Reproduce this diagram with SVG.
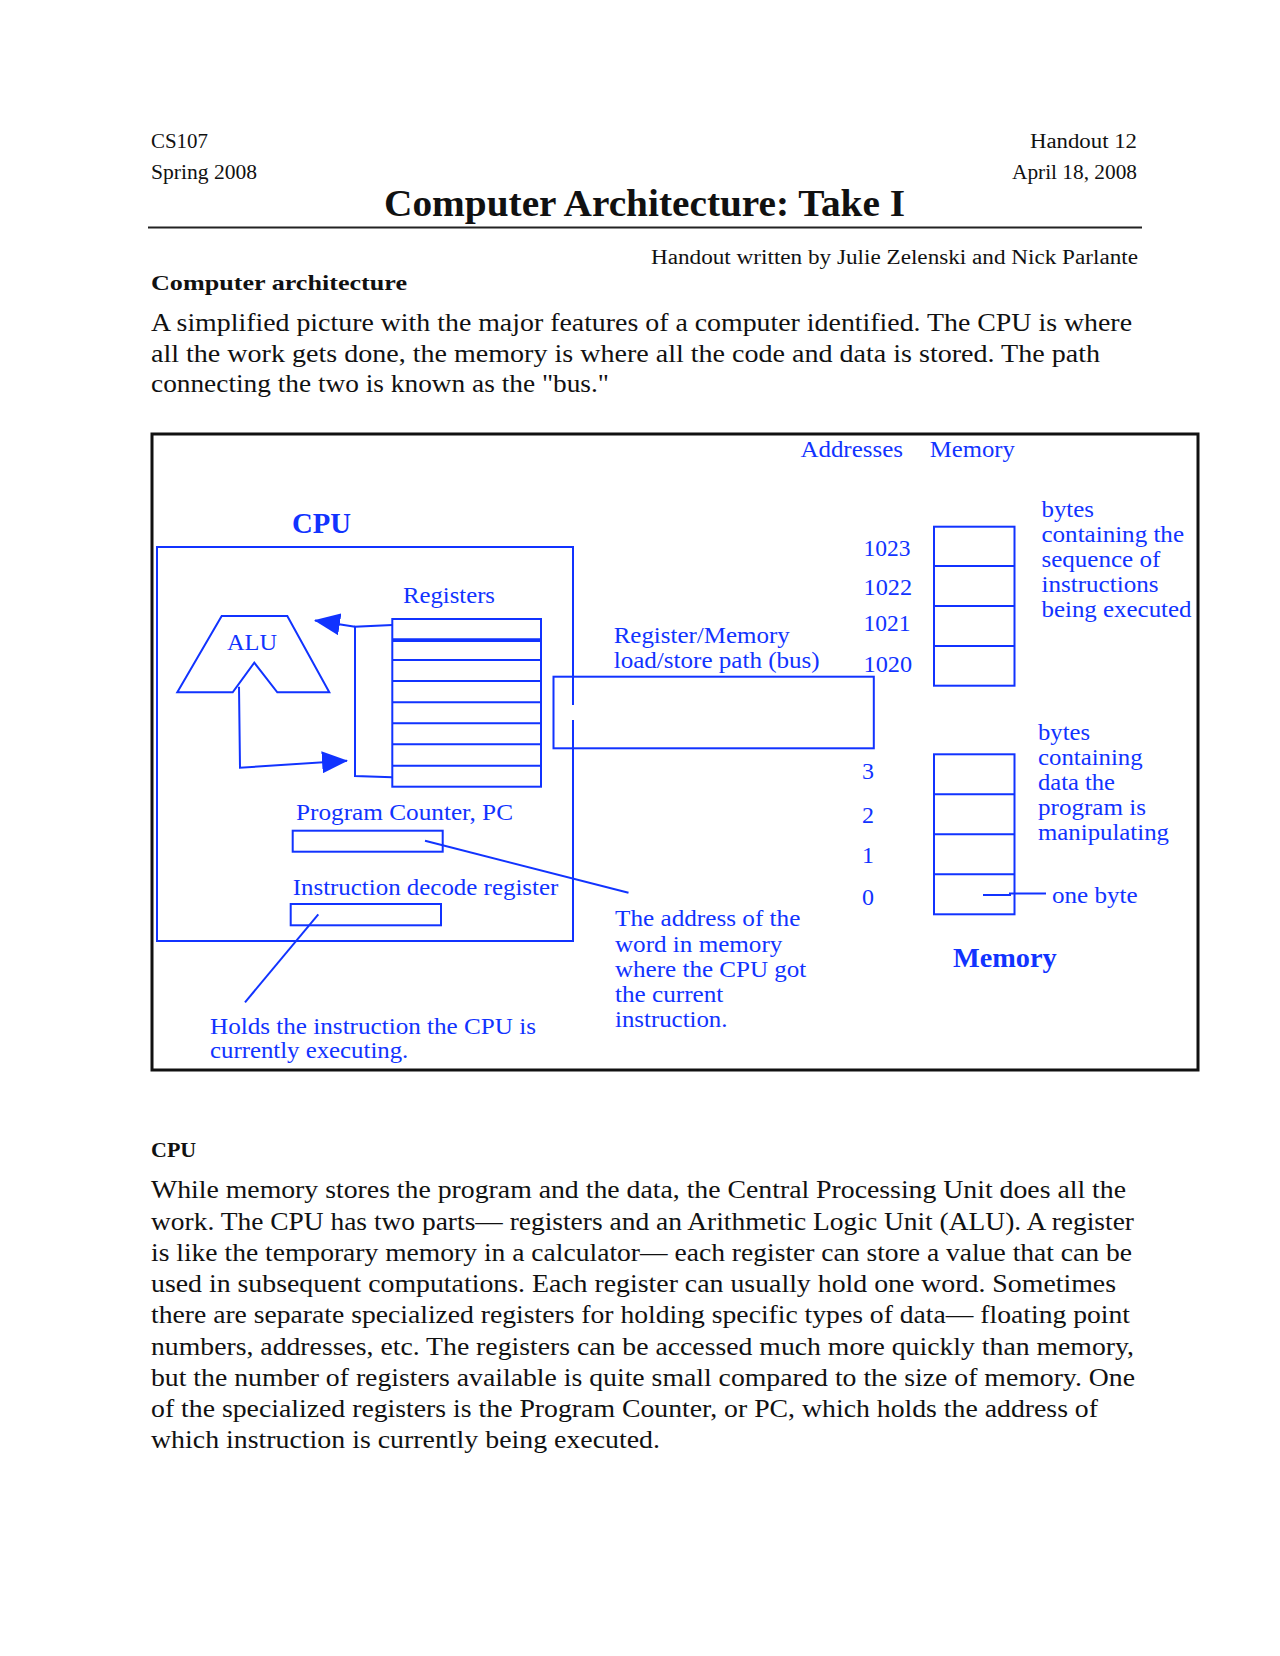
<svg xmlns="http://www.w3.org/2000/svg" width="1280" height="1656" viewBox="0 0 1280 1656">
<style>
text{font-family:"Liberation Serif","Times New Roman",serif;}
.hd{font-size:20px;fill:#111;}
.ttl{font-size:37px;font-weight:bold;fill:#111;}
.h2{font-size:22px;font-weight:bold;fill:#111;}
.body{font-size:25px;fill:#111;}
.bl{font-size:24px;fill:#1133ff;}
.blb{font-weight:bold;fill:#1133ff;}
.box{fill:none;stroke:#1133ff;stroke-width:2;}
.ln{fill:none;stroke:#1133ff;stroke-width:2;}
</style>
<defs>
<marker id="ah" markerUnits="userSpaceOnUse" markerWidth="26" markerHeight="22" refX="25" refY="11" orient="auto" viewBox="0 0 26 22">
<path d="M0,0 L26,11 L0,22 z" fill="#1133ff"/>
</marker>
</defs>
<rect width="1280" height="1656" fill="#fff"/>

<g id="header">
<text class="hd" x="151" y="148" textLength="57" lengthAdjust="spacingAndGlyphs">CS107</text>
<text class="hd" x="151" y="179" textLength="106" lengthAdjust="spacingAndGlyphs">Spring 2008</text>
<text class="hd" x="1030" y="148" textLength="107" lengthAdjust="spacingAndGlyphs">Handout 12</text>
<text class="hd" x="1012" y="179" textLength="125" lengthAdjust="spacingAndGlyphs">April 18, 2008</text>
<text class="ttl" x="384" y="216" textLength="521" lengthAdjust="spacingAndGlyphs">Computer Architecture: Take I</text>
<line x1="148" y1="227.5" x2="1142" y2="227.5" stroke="#222" stroke-width="2"/>
<text class="hd" x="651" y="264" textLength="487" lengthAdjust="spacingAndGlyphs">Handout written by Julie Zelenski and Nick Parlante</text>
<text class="h2" x="151" y="290" textLength="256" lengthAdjust="spacingAndGlyphs">Computer architecture</text>
<text class="body" x="151" y="331" textLength="981" lengthAdjust="spacingAndGlyphs">A simplified picture with the major features of a computer identified.  The CPU is where</text>
<text class="body" x="151" y="362" textLength="949" lengthAdjust="spacingAndGlyphs">all the work gets done, the memory is where all the code and data is stored.  The path</text>
<text class="body" x="151" y="392" textLength="458" lengthAdjust="spacingAndGlyphs">connecting the two is known as the "bus."</text>
</g>

<rect id="frame" x="152" y="434" width="1046" height="636" fill="none" stroke="#111" stroke-width="3"/>

<g id="cpu">
<text class="blb" x="292" y="533" font-size="29" textLength="59" lengthAdjust="spacingAndGlyphs">CPU</text>
<path class="box" d="M573,705 L573,547 L157,547 L157,941 L573,941 L573,720"/>
</g>

<g id="alu">
<polygon class="box" points="221.7,616 287.3,616 329.3,692.3 277.3,692.3 254.3,662.7 232.7,692.3 177.3,692.3"/>
<text class="bl" x="227" y="650" textLength="50" lengthAdjust="spacingAndGlyphs">ALU</text>
</g>

<g id="registers">
<text class="bl" x="403" y="603" textLength="92" lengthAdjust="spacingAndGlyphs">Registers</text>
<rect class="box" x="392.3" y="619" width="148.7" height="167.7"/>
<path class="ln" d="M392.3,639.3H541M392.3,660H541M392.3,681H541M392.3,702.3H541M392.3,723.3H541M392.3,744.3H541M392.3,765.7H541"/>
<line class="ln" x1="392.3" y1="641" x2="541" y2="641" stroke-width="1.5"/>
</g>

<g id="pc">
<text class="bl" x="296" y="820" textLength="217" lengthAdjust="spacingAndGlyphs">Program Counter, PC</text>
<rect class="box" x="292.7" y="830.7" width="150" height="21"/>
</g>

<g id="idr">
<text class="bl" x="292.7" y="895" textLength="265.6" lengthAdjust="spacingAndGlyphs">Instruction decode register</text>
<rect class="box" x="290.7" y="904" width="150.3" height="21.3"/>
</g>

<g id="bus">
<rect class="box" x="553.5" y="676.7" width="320.3" height="71.6"/>
<text class="bl" x="613.7" y="643" textLength="176" lengthAdjust="spacingAndGlyphs">Register/Memory</text>
<text class="bl" x="613.7" y="668" textLength="206" lengthAdjust="spacingAndGlyphs">load/store path (bus)</text>
</g>

<g id="addresses">
<text class="bl" x="800.4" y="457" textLength="102.6" lengthAdjust="spacingAndGlyphs">Addresses</text>
<text class="bl" x="863.6" y="556" textLength="47" lengthAdjust="spacingAndGlyphs">1023</text>
<text class="bl" x="863.6" y="595" textLength="48.5" lengthAdjust="spacingAndGlyphs">1022</text>
<text class="bl" x="863.6" y="631" textLength="47" lengthAdjust="spacingAndGlyphs">1021</text>
<text class="bl" x="863.6" y="672" textLength="48.5" lengthAdjust="spacingAndGlyphs">1020</text>
<text class="bl" x="862" y="779">3</text>
<text class="bl" x="862" y="823">2</text>
<text class="bl" x="862" y="863">1</text>
<text class="bl" x="862" y="905">0</text>
</g>

<g id="memory-instructions">
<text class="bl" x="929.8" y="457" textLength="85" lengthAdjust="spacingAndGlyphs">Memory</text>
<rect class="box" x="934" y="526.7" width="80.5" height="159"/>
<path class="ln" d="M934,566H1014.5M934,606H1014.5M934,646H1014.5"/>
<text class="bl" x="1041.5" y="517" textLength="52.5" lengthAdjust="spacingAndGlyphs">bytes</text>
<text class="bl" x="1041.5" y="542" textLength="142.5" lengthAdjust="spacingAndGlyphs">containing the</text>
<text class="bl" x="1041.5" y="567" textLength="118.8" lengthAdjust="spacingAndGlyphs">sequence of</text>
<text class="bl" x="1041.5" y="592" textLength="117" lengthAdjust="spacingAndGlyphs">instructions</text>
<text class="bl" x="1041.5" y="617" textLength="150" lengthAdjust="spacingAndGlyphs">being executed</text>
</g>

<g id="memory-data">
<rect class="box" x="934" y="754.3" width="80.5" height="160"/>
<path class="ln" d="M934,794.3H1014.5M934,834.3H1014.5M934,874.3H1014.5"/>
<text class="bl" x="1038" y="739.5" textLength="52" lengthAdjust="spacingAndGlyphs">bytes</text>
<text class="bl" x="1038" y="765" textLength="104.6" lengthAdjust="spacingAndGlyphs">containing</text>
<text class="bl" x="1038" y="790" textLength="77" lengthAdjust="spacingAndGlyphs">data the</text>
<text class="bl" x="1038" y="815" textLength="108" lengthAdjust="spacingAndGlyphs">program is</text>
<text class="bl" x="1038" y="840" textLength="131" lengthAdjust="spacingAndGlyphs">manipulating</text>
<text class="bl" x="1052" y="903" textLength="85.6" lengthAdjust="spacingAndGlyphs">one byte</text>
<text class="blb" x="953" y="967" font-size="28" textLength="103.6" lengthAdjust="spacingAndGlyphs">Memory</text>
</g>

<g id="annotations">
<text class="bl" x="615" y="926" textLength="185.4" lengthAdjust="spacingAndGlyphs">The address of the</text>
<text class="bl" x="615" y="951.7" textLength="167.3" lengthAdjust="spacingAndGlyphs">word in memory</text>
<text class="bl" x="615" y="976.7" textLength="191.3" lengthAdjust="spacingAndGlyphs">where the CPU got</text>
<text class="bl" x="615" y="1001.7" textLength="108.3" lengthAdjust="spacingAndGlyphs">the current</text>
<text class="bl" x="615" y="1026.7" textLength="112.5" lengthAdjust="spacingAndGlyphs">instruction.</text>
<text class="bl" x="210" y="1034" textLength="326" lengthAdjust="spacingAndGlyphs">Holds the instruction the CPU is</text>
<text class="bl" x="210" y="1058.3" textLength="198.3" lengthAdjust="spacingAndGlyphs">currently executing.</text>
</g>

<g id="connectors">
<polyline class="ln" points="392.3,625 355,626.7 355,776 392.3,777.3"/>
<line class="ln" x1="355" y1="626.7" x2="315" y2="620.5" marker-end="url(#ah)"/>
<polyline class="ln" points="239,686.7 240,767.7 347,760.7" marker-end="url(#ah)"/>
<line class="ln" x1="425" y1="840.7" x2="628.5" y2="892.7"/>
<line class="ln" x1="318.3" y1="914.3" x2="245" y2="1002.3"/>
<polyline class="ln" points="983,895 1010,895 1010,893.5 1046,893.5"/>
</g>

<g id="section-cpu">
<text class="h2" x="151" y="1157">CPU</text>
<text class="body" x="151" y="1198" textLength="975" lengthAdjust="spacingAndGlyphs">While memory stores the program and the data, the Central Processing Unit does all the</text>
<text class="body" x="151" y="1229.5" textLength="983" lengthAdjust="spacingAndGlyphs">work. The CPU has two parts— registers and an Arithmetic Logic Unit (ALU). A register</text>
<text class="body" x="151" y="1260.5" textLength="981" lengthAdjust="spacingAndGlyphs">is like the temporary memory in a calculator— each register can store a value that can be</text>
<text class="body" x="151" y="1292" textLength="965" lengthAdjust="spacingAndGlyphs">used in subsequent computations. Each register can usually hold one word. Sometimes</text>
<text class="body" x="151" y="1323" textLength="979" lengthAdjust="spacingAndGlyphs">there are separate specialized registers for holding specific types of data— floating point</text>
<text class="body" x="151" y="1354.5" textLength="983" lengthAdjust="spacingAndGlyphs">numbers, addresses, etc. The registers can be accessed much more quickly than memory,</text>
<text class="body" x="151" y="1386" textLength="984" lengthAdjust="spacingAndGlyphs">but the number of registers available is quite small compared to the size of memory. One</text>
<text class="body" x="151" y="1417" textLength="947" lengthAdjust="spacingAndGlyphs">of the specialized registers is the Program Counter, or PC, which holds the address of</text>
<text class="body" x="151" y="1448" textLength="509" lengthAdjust="spacingAndGlyphs">which instruction is currently being executed.</text>
</g>
</svg>
